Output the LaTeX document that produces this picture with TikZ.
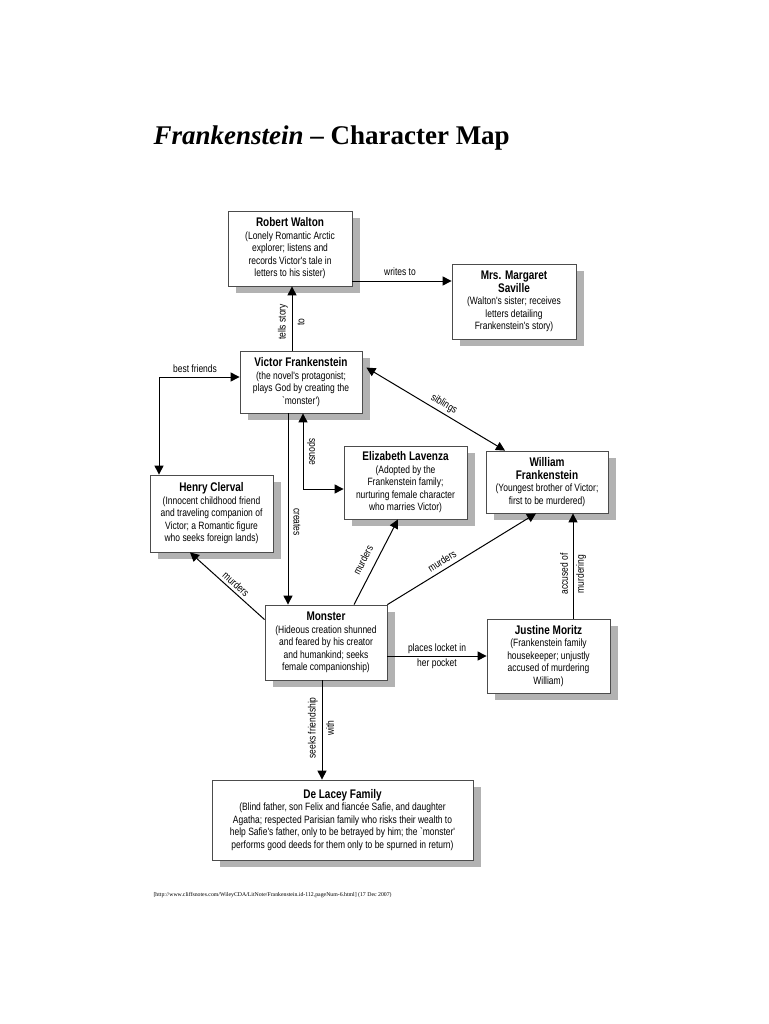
\documentclass[tikz,border=0pt]{standalone}
\usepackage{fontspec}
\setmainfont{Liberation Serif}
\newfontfamily\bx{Liberation Sans}[FakeStretch=0.8]
\newcommand\nmx[1]{{\bx\bfseries\fontsize{12.5}{14}\selectfont #1}}
\usetikzlibrary{arrows.meta,shadows}
\begin{document}
\begin{tikzpicture}[x=1pt,y=-1pt,
  box/.style={draw=black!70,line width=0.8pt,fill=white,align=center,inner sep=1pt,
    font=\bx\fontsize{10.6}{12.5}\selectfont,
    drop shadow={shadow xshift=8pt,shadow yshift=-7pt,fill=black!30,opacity=1}},
  arr/.style={line width=1pt,-{Triangle[length=9pt,width=9pt]}},
  barr/.style={line width=1pt,{Triangle[length=9pt,width=9pt]}-{Triangle[length=9pt,width=9pt]}},
  lab/.style={font=\bx\fontsize{10.6}{12}\selectfont,align=center,inner sep=0pt}]
\useasboundingbox (0,0) rectangle (768,1024);
\node[anchor=base west,font=\bfseries\fontsize{27}{30}\selectfont] (title) at (150,145) {\textit{Frankenstein} -- Character Map};
\node[box,minimum width=124pt,minimum height=75pt] (walton) at (290,248.5) {\nmx{Robert Walton}\\(Lonely Romantic Arctic\\explorer; listens and\\records Victor's tale in\\letters to his sister)};
\node[box,minimum width=124pt,minimum height=75pt] (saville) at (514,301.5) {\nmx{Mrs. Margaret}\\\nmx{Saville}\\(Walton's sister; receives\\letters detailing\\Frankenstein's story)};
\node[box,minimum width=122pt,minimum height=62pt] (victor) at (301,382) {\nmx{Victor Frankenstein}\\(the novel's protagonist;\\plays God by creating the\\`monster')};
\node[box,minimum width=123pt,minimum height=73pt] (eliz) at (405.5,482.5) {\nmx{Elizabeth Lavenza}\\(Adopted by the\\Frankenstein family;\\nurturing female character\\who marries Victor)};
\node[box,minimum width=122pt,minimum height=62pt] (william) at (547,482) {\nmx{William}\\\nmx{Frankenstein}\\(Youngest brother of Victor;\\first to be murdered)};
\node[box,minimum width=123pt,minimum height=77pt] (henry) at (211.5,513.5) {\nmx{Henry Clerval}\\(Innocent childhood friend\\and traveling companion of\\Victor; a Romantic figure\\who seeks foreign lands)};
\node[box,minimum width=122pt,minimum height=75pt] (monster) at (326,642.5) {\nmx{Monster}\\(Hideous creation shunned\\and feared by his creator\\and humankind; seeks\\female companionship)};
\node[box,minimum width=123pt,minimum height=74pt] (justine) at (548.5,656) {\nmx{Justine Moritz}\\(Frankenstein family\\housekeeper; unjustly\\accused of murdering\\William)};
\node[box,minimum width=261pt,minimum height=80pt] (delacey) at (342.5,820) {\nmx{De Lacey Family}\\(Blind father, son Felix and fiancée Safie, and daughter\\Agatha; respected Parisian family who risks their wealth to\\help Safie's father, only to be betrayed by him; the `monster'\\performs good deeds for them only to be spurned in return)};

\draw[arr] ([yshift=-32.5pt]walton.east) -- ([yshift=-32.5pt]walton.east -| saville.west);
\draw[arr] ([xshift=-9pt]victor.north) -- ([xshift=-9pt]victor.north |- walton.south);
\draw[barr] ([yshift=5pt]victor.west) -| ([xshift=-52.5pt]henry.north);
\draw[barr] ([yshift=-17pt,xshift=4pt]victor.north east) -- ([xshift=-42pt]william.north);
\draw[barr] ([xshift=2pt]victor.south) |- ([yshift=-6.5pt]eliz.west);
\draw[arr] ([xshift=-13pt]victor.south) -- ([xshift=-13pt]victor.south |- monster.north);
\draw[arr] ([yshift=-15pt]monster.north west) -- ([xshift=-21.5pt]henry.south);
\draw[arr] ([xshift=28pt]monster.north) -- ([xshift=-7.5pt]eliz.south);
\draw[arr] (monster.north east) -- ([xshift=-11pt]william.south);
\draw[arr] ([xshift=24.5pt]justine.north) -- ([xshift=24.5pt]justine.north |- william.south);
\draw[arr] ([yshift=-13.5pt]monster.east) -- ([yshift=-13.5pt]monster.east -| justine.west);
\draw[arr] ([xshift=-4pt]monster.south) -- ([xshift=-4pt]monster.south |- delacey.north);

\node[lab] (l1) at (400,272) {writes to};
\node[lab,rotate=90] (l2) at (283,322) {tells story};
\node[lab,rotate=90] (l3) at (301,322) {to};
\node[lab] (l4) at (195,369) {best friends};
\node[lab,rotate=-31] (l5) at (444,404) {siblings};
\node[lab,rotate=-90] (l6) at (311,452) {spouse};
\node[lab,rotate=-90] (l7) at (297,522) {creates};
\node[lab,rotate=-42] (l8) at (236,584) {murders};
\node[lab,rotate=63] (l9) at (363,560) {murders};
\node[lab,rotate=32] (l10) at (442,561) {murders};
\node[lab,rotate=90] (l11) at (564,574) {accused of};
\node[lab,rotate=90] (l12) at (581,574) {murdering};
\node[lab] (l13) at (437,656) {places locket in\\[3pt]her pocket};
\node[lab,rotate=90] (l14) at (313,728) {seeks friendship};
\node[lab,rotate=90] (l15) at (330,728) {with};
\node[anchor=west,font=\fontsize{5.8}{7}\selectfont] (src) at (150,895) {[http://www.cliffsnotes.com/WileyCDA/LitNote/Frankenstein.id-112,pageNum-6.html] (17 Dec 2007)};
\end{tikzpicture}
\end{document}
